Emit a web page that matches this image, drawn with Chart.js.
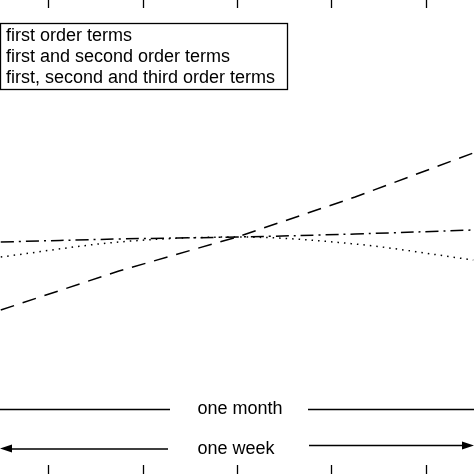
<!DOCTYPE html>
<html><head><meta charset="utf-8">
<script src="https://cdn.jsdelivr.net/npm/chart.js@4"></script>
<style>html,body{margin:0;padding:0;background:#fff}</style>
</head><body>
<canvas id="c" width="474" height="474"></canvas>
<script>
const seriesNames = ["first order terms","first and second order terms","first, second and third order terms"];
const xs = [-2.5,-1.25,0,1.25,2.5];
const firstOrder = [-73,-34,0,40,84];
const firstSecond = [-20,-5,0,-7,-23];
const firstSecondThird = [-5,-2,0,3,7];
const tickValues = [-2,-1,0,1,2];
const spanLabels = ["one month","one week"];

const mk = (arr)=>xs.map((x,i)=>({x, y:arr[i]}));
const FONT = '18px "Liberation Sans", Arial, sans-serif';

const deco = {
  id:'deco',
  afterDraw(chart){
    const ctx = chart.ctx, xS = chart.scales.x;
    ctx.save();
    ctx.strokeStyle='#000'; ctx.fillStyle='#000'; ctx.lineWidth=1.3; ctx.setLineDash([]);
    tickValues.forEach(v=>{
      const px = Math.round(xS.getPixelForValue(v))+0.5;
      ctx.beginPath(); ctx.moveTo(px,0); ctx.lineTo(px,8); ctx.stroke();
      ctx.beginPath(); ctx.moveTo(px,465); ctx.lineTo(px,474); ctx.stroke();
    });
    ctx.font = FONT; ctx.textAlign='center'; ctx.textBaseline='middle';
    ctx.beginPath(); ctx.moveTo(0,409.5); ctx.lineTo(170,409.5); ctx.moveTo(308,409.5); ctx.lineTo(474,409.5); ctx.stroke();
    ctx.fillText(spanLabels[0], 240, 409);
    ctx.beginPath(); ctx.moveTo(6,449); ctx.lineTo(168,449); ctx.moveTo(309,445.5); ctx.lineTo(466,445.5); ctx.stroke();
    ctx.beginPath(); ctx.moveTo(0,448.5); ctx.lineTo(12,444.5); ctx.lineTo(12,452.5); ctx.closePath(); ctx.fill();
    ctx.beginPath(); ctx.moveTo(474,445.5); ctx.lineTo(462,441.5); ctx.lineTo(462,449.5); ctx.closePath(); ctx.fill();
    ctx.fillText(spanLabels[1], 236, 449);
    ctx.fillStyle='#fff'; ctx.fillRect(0,23,288,66);
    ctx.strokeRect(0.5,23.5,287,66);
    ctx.fillStyle='#000'; ctx.textAlign='left';
    seriesNames.forEach((n,i)=>ctx.fillText(n, 6, 36+i*21));
    ctx.restore();
  }
};

new Chart(document.getElementById('c'),{
  type:'line',
  data:{datasets:[
    {label:seriesNames[0], data:mk(firstOrder), borderColor:'#000', borderWidth:1.5, borderDash:[14,9], pointRadius:0, tension:0},
    {label:seriesNames[1], data:mk(firstSecond), borderColor:'#000', borderWidth:1.5, borderDash:[1.5,5], pointRadius:0, tension:0.4, cubicInterpolationMode:'monotone'},
    {label:seriesNames[2], data:mk(firstSecondThird), borderColor:'#000', borderWidth:1.5, borderDash:[13,5,2,5], pointRadius:0, tension:0.4}
  ]},
  options:{
    responsive:false, animation:false, devicePixelRatio:1,
    layout:{padding:0},
    plugins:{legend:{display:false}, tooltip:{enabled:false}},
    scales:{
      x:{type:'linear', min:-2.508, max:2.508, display:false},
      y:{type:'linear', min:-237, max:237, display:false}
    }
  },
  plugins:[deco]
});
</script>
</body></html>
